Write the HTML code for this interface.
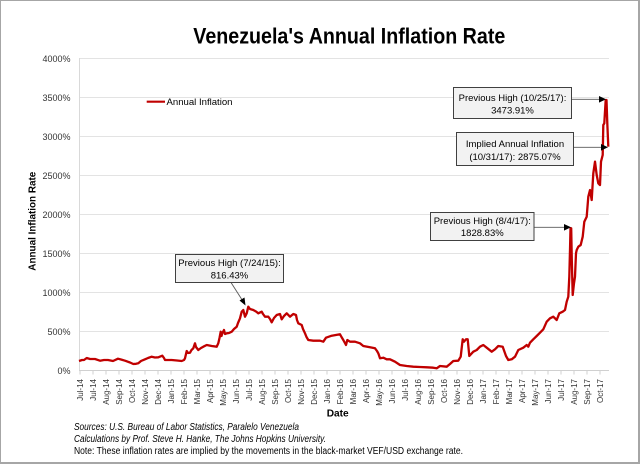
<!DOCTYPE html>
<html><head><meta charset="utf-8"><style>
html,body{margin:0;padding:0;background:#fff;}
svg{display:block;font-family:"Liberation Sans",sans-serif;}
</style></head><body>
<svg width="640" height="464" viewBox="0 0 640 464" xmlns="http://www.w3.org/2000/svg">
<rect x="0" y="0" width="640" height="464" fill="#fff"/>
<!-- border -->
<rect x="0" y="0" width="640" height="1" fill="#a6a6a6"/>
<rect x="0" y="0" width="1" height="464" fill="#a6a6a6"/>
<rect x="638" y="0" width="2" height="464" fill="#a6a6a6"/>
<rect x="0" y="462" width="640" height="2" fill="#a6a6a6"/>

<text x="193.3" y="43.5" font-size="22" font-weight="bold" fill="#000" textLength="312" lengthAdjust="spacingAndGlyphs">Venezuela's Annual Inflation Rate</text>

<!-- gridlines -->
<g stroke="#e3e3e3" stroke-width="1">
<line x1="79" y1="58.5" x2="609" y2="58.5"/>
<line x1="79" y1="97.5" x2="609" y2="97.5"/>
<line x1="79" y1="136.5" x2="609" y2="136.5"/>
<line x1="79" y1="175.5" x2="609" y2="175.5"/>
<line x1="79" y1="214.5" x2="609" y2="214.5"/>
<line x1="79" y1="253.5" x2="609" y2="253.5"/>
<line x1="79" y1="292.5" x2="609" y2="292.5"/>
<line x1="79" y1="331.5" x2="609" y2="331.5"/>
</g>
<line x1="79.5" y1="58" x2="79.5" y2="371" stroke="#d9d9d9" stroke-width="1"/>
<line x1="79" y1="370.5" x2="609" y2="370.5" stroke="#d0d0d0" stroke-width="1"/>

<!-- y labels -->
<g font-size="9" fill="#333" text-anchor="end">
<text x="70.5" y="61.8">4000%</text>
<text x="70.5" y="100.8">3500%</text>
<text x="70.5" y="139.8">3000%</text>
<text x="70.5" y="178.8">2500%</text>
<text x="70.5" y="217.8">2000%</text>
<text x="70.5" y="256.8">1500%</text>
<text x="70.5" y="295.8">1000%</text>
<text x="70.5" y="334.8">500%</text>
<text x="70.5" y="373.8">0%</text>
</g>

<text transform="translate(35.5,221.2) rotate(-90)" text-anchor="middle" font-size="10.5" font-weight="bold" fill="#000" textLength="99" lengthAdjust="spacingAndGlyphs">Annual Inflation Rate</text>

<!-- x ticks -->
<g stroke="#d0d0d0" stroke-width="1">
<line x1="80" y1="370.5" x2="80" y2="374.5"/><line x1="93" y1="370.5" x2="93" y2="374.5"/><line x1="106" y1="370.5" x2="106" y2="374.5"/><line x1="119" y1="370.5" x2="119" y2="374.5"/><line x1="132" y1="370.5" x2="132" y2="374.5"/><line x1="145" y1="370.5" x2="145" y2="374.5"/><line x1="158" y1="370.5" x2="158" y2="374.5"/><line x1="171" y1="370.5" x2="171" y2="374.5"/><line x1="184" y1="370.5" x2="184" y2="374.5"/><line x1="197" y1="370.5" x2="197" y2="374.5"/><line x1="210" y1="370.5" x2="210" y2="374.5"/><line x1="223" y1="370.5" x2="223" y2="374.5"/><line x1="236" y1="370.5" x2="236" y2="374.5"/><line x1="249" y1="370.5" x2="249" y2="374.5"/><line x1="262" y1="370.5" x2="262" y2="374.5"/><line x1="275" y1="370.5" x2="275" y2="374.5"/><line x1="288" y1="370.5" x2="288" y2="374.5"/><line x1="301" y1="370.5" x2="301" y2="374.5"/><line x1="314" y1="370.5" x2="314" y2="374.5"/><line x1="327" y1="370.5" x2="327" y2="374.5"/><line x1="340" y1="370.5" x2="340" y2="374.5"/><line x1="353" y1="370.5" x2="353" y2="374.5"/><line x1="366" y1="370.5" x2="366" y2="374.5"/><line x1="379" y1="370.5" x2="379" y2="374.5"/><line x1="392" y1="370.5" x2="392" y2="374.5"/><line x1="405" y1="370.5" x2="405" y2="374.5"/><line x1="418" y1="370.5" x2="418" y2="374.5"/><line x1="431" y1="370.5" x2="431" y2="374.5"/><line x1="444" y1="370.5" x2="444" y2="374.5"/><line x1="457" y1="370.5" x2="457" y2="374.5"/><line x1="470" y1="370.5" x2="470" y2="374.5"/><line x1="483" y1="370.5" x2="483" y2="374.5"/><line x1="496" y1="370.5" x2="496" y2="374.5"/><line x1="509" y1="370.5" x2="509" y2="374.5"/><line x1="522" y1="370.5" x2="522" y2="374.5"/><line x1="535" y1="370.5" x2="535" y2="374.5"/><line x1="548" y1="370.5" x2="548" y2="374.5"/><line x1="561" y1="370.5" x2="561" y2="374.5"/><line x1="574" y1="370.5" x2="574" y2="374.5"/><line x1="587" y1="370.5" x2="587" y2="374.5"/><line x1="600" y1="370.5" x2="600" y2="374.5"/>
</g>

<!-- x labels -->
<g font-size="8" fill="#333" text-anchor="end">
<text transform="translate(83,379) rotate(-90)">Jul-14</text>
<text transform="translate(96,379) rotate(-90)">Jul-14</text>
<text transform="translate(109,379) rotate(-90)">Aug-14</text>
<text transform="translate(122,379) rotate(-90)">Sep-14</text>
<text transform="translate(135,379) rotate(-90)">Oct-14</text>
<text transform="translate(148,379) rotate(-90)">Nov-14</text>
<text transform="translate(161,379) rotate(-90)">Dec-14</text>
<text transform="translate(174,379) rotate(-90)">Jan-15</text>
<text transform="translate(187,379) rotate(-90)">Feb-15</text>
<text transform="translate(200,379) rotate(-90)">Mar-15</text>
<text transform="translate(213,379) rotate(-90)">Apr-15</text>
<text transform="translate(226,379) rotate(-90)">May-15</text>
<text transform="translate(239,379) rotate(-90)">Jun-15</text>
<text transform="translate(252,379) rotate(-90)">Jul-15</text>
<text transform="translate(265,379) rotate(-90)">Aug-15</text>
<text transform="translate(278,379) rotate(-90)">Sep-15</text>
<text transform="translate(291,379) rotate(-90)">Oct-15</text>
<text transform="translate(304,379) rotate(-90)">Nov-15</text>
<text transform="translate(317,379) rotate(-90)">Dec-15</text>
<text transform="translate(330,379) rotate(-90)">Jan-16</text>
<text transform="translate(343,379) rotate(-90)">Feb-16</text>
<text transform="translate(356,379) rotate(-90)">Mar-16</text>
<text transform="translate(369,379) rotate(-90)">Apr-16</text>
<text transform="translate(382,379) rotate(-90)">May-16</text>
<text transform="translate(395,379) rotate(-90)">Jun-16</text>
<text transform="translate(408,379) rotate(-90)">Jul-16</text>
<text transform="translate(421,379) rotate(-90)">Aug-16</text>
<text transform="translate(434,379) rotate(-90)">Sep-16</text>
<text transform="translate(447,379) rotate(-90)">Oct-16</text>
<text transform="translate(460,379) rotate(-90)">Nov-16</text>
<text transform="translate(473,379) rotate(-90)">Dec-16</text>
<text transform="translate(486,379) rotate(-90)">Jan-17</text>
<text transform="translate(499,379) rotate(-90)">Feb-17</text>
<text transform="translate(512,379) rotate(-90)">Mar-17</text>
<text transform="translate(525,379) rotate(-90)">Apr-17</text>
<text transform="translate(538,379) rotate(-90)">May-17</text>
<text transform="translate(551,379) rotate(-90)">Jun-17</text>
<text transform="translate(564,379) rotate(-90)">Jul-17</text>
<text transform="translate(577,379) rotate(-90)">Aug-17</text>
<text transform="translate(590,379) rotate(-90)">Sep-17</text>
<text transform="translate(603,379) rotate(-90)">Oct-17</text>
</g>

<text x="326.7" y="416.5" font-size="10.5" font-weight="bold" fill="#000" textLength="22" lengthAdjust="spacingAndGlyphs">Date</text>

<!-- legend -->
<line x1="146.7" y1="101.7" x2="165" y2="101.7" stroke="#c00000" stroke-width="2.2"/>
<text x="166.5" y="105" font-size="9.5" fill="#000" textLength="66" lengthAdjust="spacingAndGlyphs">Annual Inflation</text>

<!-- data -->
<polyline fill="none" stroke="#c00000" stroke-width="2.3" stroke-linejoin="round" points="79,361 82,360 84,360 86.7,358 90,359 95,359 100,360.7 104,360 108,360 113,361 118,358.7 121,359.5 125,360.7 130,362.5 133.3,364 136,363.8 138.3,363.3 141,361 145,359.3 148,358 151.7,356.7 155,357.5 158.3,357.3 162.3,355.7 164,358 165,360 171.7,360 177,360.5 181.7,361 184,360 185,358.3 186,354 186.7,351 188,353 190,352.7 191.5,350 193.3,348.3 195,343.3 196,347 198.3,350 201,348 203.3,346.7 206.7,345 211.7,346 216.7,346.7 218.3,343.3 219.5,338 220.7,331.7 221.5,336 222.3,333.3 224,330 225,334 226.7,333.3 229,333 231.7,331.7 234,329 236.7,326.7 238,323 240,318.3 241.7,311.7 243.3,310 245,316.7 246.7,313.3 248.3,306.7 250,309 253.3,310 256,311.5 258.3,313.3 261.7,311.7 263,314 265,316.7 268.3,316.7 270,319 271.7,322.3 274,318 276.7,315 280,314 281.7,319.3 284,316 286.7,313.3 290,316.7 293.3,314 296,315 297,320 298.3,323.3 301.7,325 303,329 305,333.3 306.5,337 308.3,340 313.3,340.7 320,340.7 323.3,341.7 326,337.7 331.7,335.7 340,334.3 341.5,337 343.3,340 346,345 347.3,340 350,341.7 355,341.7 360,343.3 363.3,346 370,347.3 375,348.3 377,351 378.3,353.3 380,358.3 383.3,357.7 386.7,359.3 390,359.3 395,361.7 400,365 406.7,366 413.3,366.7 420,367 427,367.3 433.3,367.7 436.7,368.3 440,366 446.7,366.7 450,364 453.3,361 458.3,360.7 460.7,356.7 462.7,339.3 464,341.7 466,339.3 467.7,339.3 469.3,356 473.3,351.7 476.7,350 480,346.7 483.3,345 486.7,347.7 491.7,351.7 495,349.3 498.3,346 502.7,346.7 506,356 508.3,360 511.7,359.3 515,356.7 518.3,350 523.3,347.7 526.7,345 528.3,346.7 530,342.7 533.3,339.3 536.7,336 540,332.7 543.3,329.3 546.7,321.7 550,318.3 553.3,316.7 556.7,320 559.3,313.3 562.7,311.7 565,310 566.7,301.7 568.3,296.7 569.3,276.7 570,250 570.5,228.3 571.2,228.3 571.8,260 572.7,295 574,283.3 575,276.7 576,253.3 576.7,250 578.3,246.7 580.7,245 582.7,236.7 584.3,221.7 586.7,216.7 588.3,196.7 590,190 591.7,200 593.3,173.3 595,161.7 596.7,175 598.3,183.3 600,185 601,161.7 602.7,155 603.3,125 604.3,123.3 605.7,100 606.5,100 607.3,123.3 608.3,146.7"/>

<!-- annotation arrows -->
<g stroke="#595959" stroke-width="0.9">
<line x1="231" y1="282.5" x2="242.5" y2="300.5"/>
<line x1="571.7" y1="99.3" x2="600" y2="99.3"/>
<line x1="573.3" y1="147.3" x2="602" y2="147.3"/>
<line x1="534" y1="227.3" x2="565" y2="227.3"/>
</g>
<g fill="#000">
<polygon points="245.5,305.5 239.5,300.5 244.5,297.5"/>
<polygon points="606,99.3 599,96 599,102.6"/>
<polygon points="608,147.3 601,144 601,150.6"/>
<polygon points="571,227.3 564,224 564,230.6"/>
</g>

<!-- annotation boxes -->
<g fill="#f2f2f2" stroke="#404040" stroke-width="1">
<rect x="175.5" y="254.5" width="108" height="28"/>
<rect x="453.5" y="87.5" width="118" height="31"/>
<rect x="456.5" y="132.5" width="117" height="33"/>
<rect x="430.5" y="212.5" width="103.5" height="28"/>
</g>
<g font-size="9.5" fill="#000" text-anchor="middle">
<text x="229.5" y="266.2">Previous High (7/24/15):</text>
<text x="229.5" y="278.5">816.43%</text>
<text x="512.5" y="100.8">Previous High (10/25/17):</text>
<text x="512.5" y="113.5">3473.91%</text>
<text x="515" y="146.8">Implied Annual Inflation</text>
<text x="515" y="160.2">(10/31/17): 2875.07%</text>
<text x="482.3" y="224.2">Previous High (8/4/17):</text>
<text x="482.3" y="236.2">1828.83%</text>
</g>

<!-- footer -->
<g font-size="10" fill="#000">
<text x="74" y="430" font-style="italic" textLength="225" lengthAdjust="spacingAndGlyphs">Sources: U.S. Bureau of Labor Statistics, Paralelo Venezuela</text>
<text x="74" y="442" font-style="italic" textLength="252" lengthAdjust="spacingAndGlyphs">Calculations by Prof. Steve H. Hanke, The Johns Hopkins University.</text>
<text x="74" y="454" textLength="389" lengthAdjust="spacingAndGlyphs">Note: These inflation rates are implied by the movements in the black-market VEF/USD exchange rate.</text>
</g>
</svg>
</body></html>
